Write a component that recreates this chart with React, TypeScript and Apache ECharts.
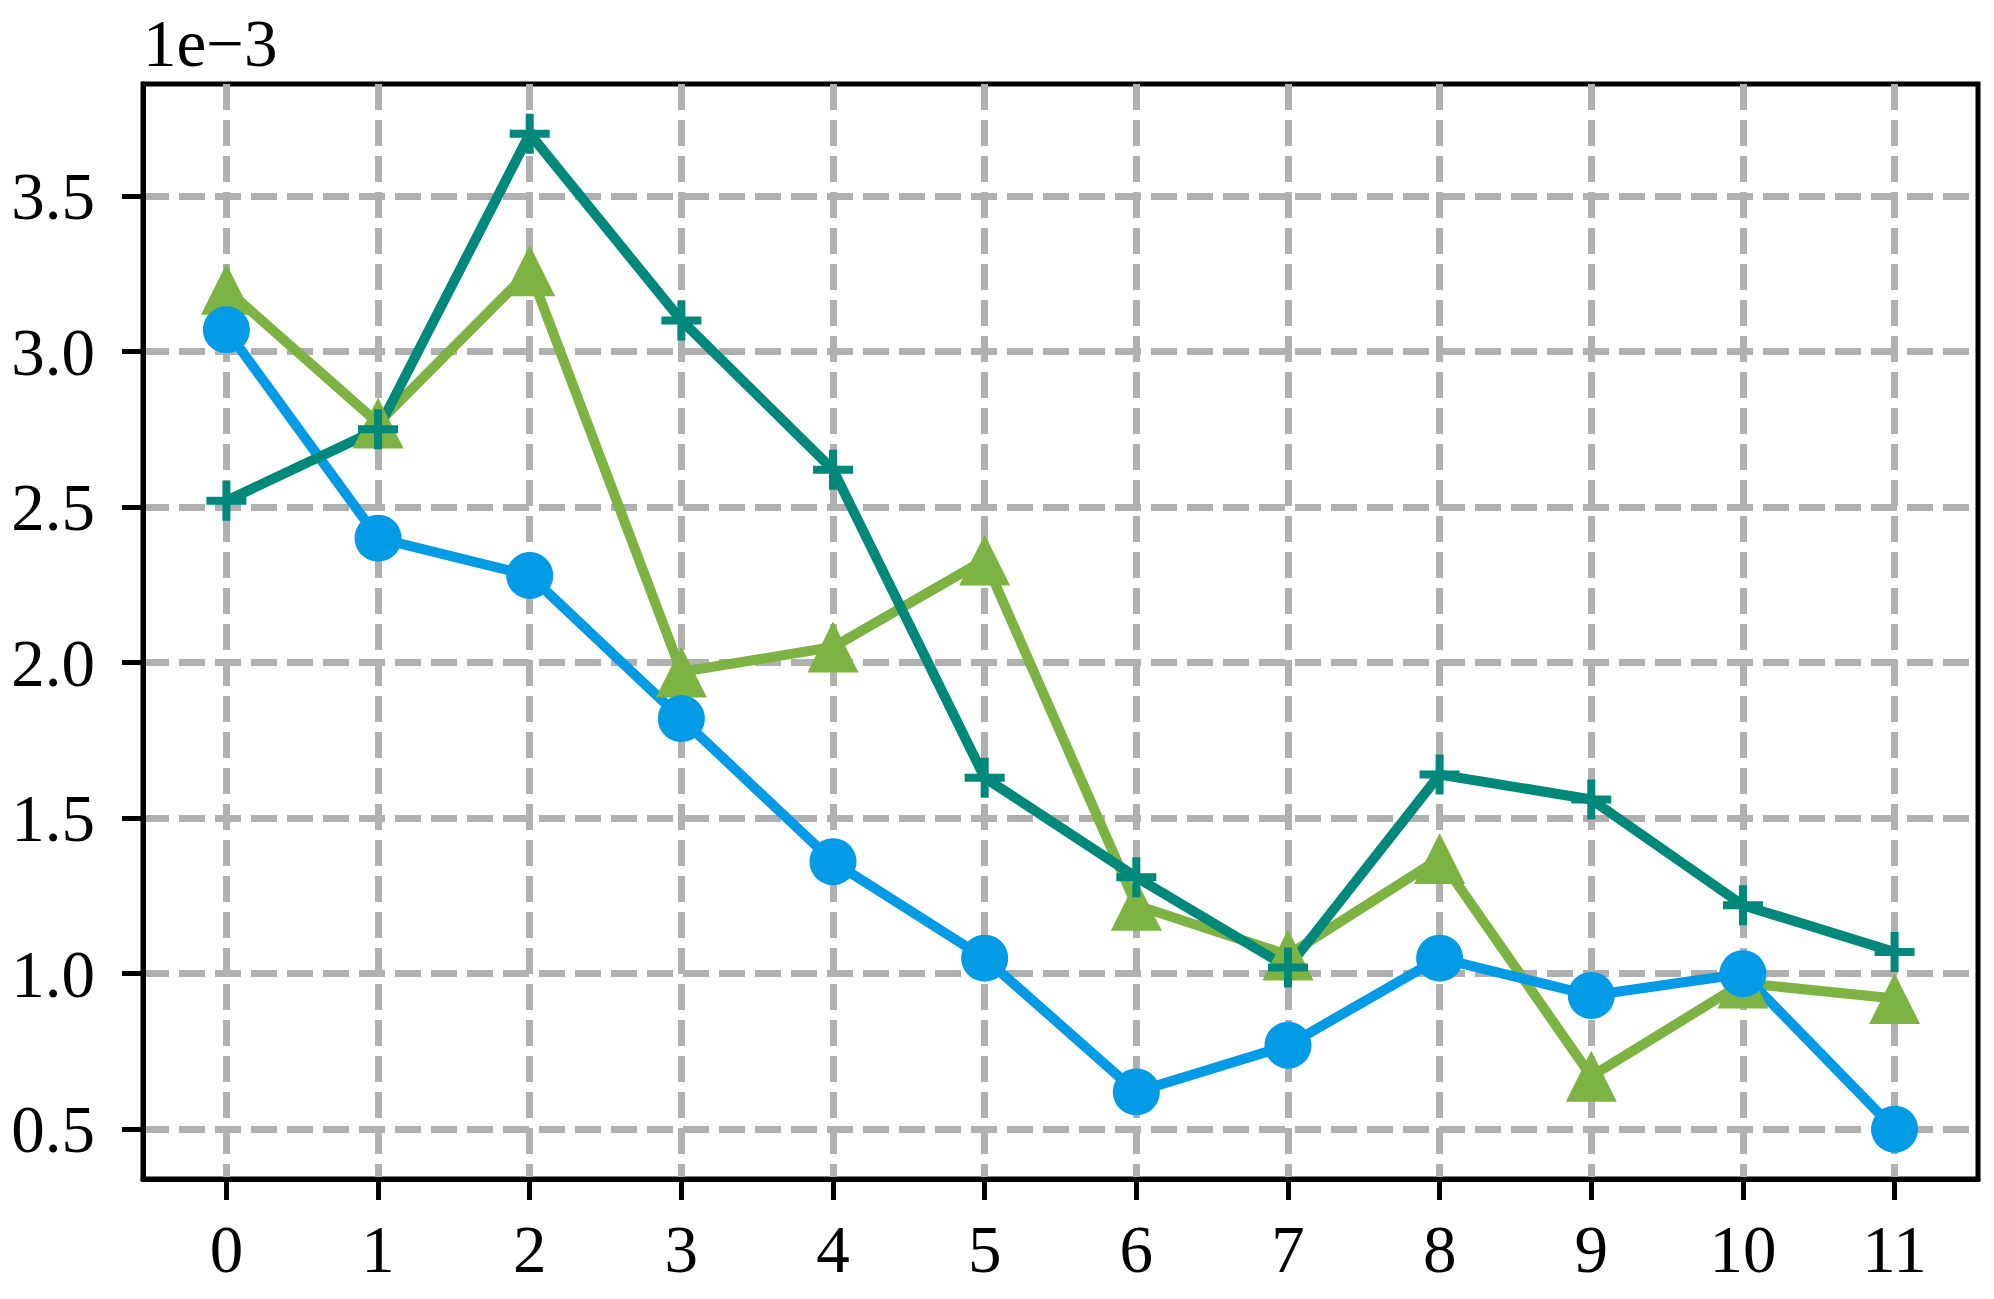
import React, { useEffect, useRef } from "react";
import * as echarts from "echarts";

// values are in units of 1e-3
const categories = [0, 1, 2, 3, 4, 5, 6, 7, 8, 9, 10, 11];
const greenTriangle = [3.2, 2.77, 3.26, 1.97, 2.05, 2.33, 1.22, 1.06, 1.37, 0.67, 0.97, 0.92];
const blueCircle = [3.07, 2.4, 2.28, 1.82, 1.36, 1.05, 0.62, 0.77, 1.05, 0.93, 1.0, 0.5];
const tealPlus = [2.52, 2.75, 3.7, 3.1, 2.62, 1.63, 1.31, 1.02, 1.64, 1.56, 1.22, 1.07];
const yTicks = [0.5, 1.0, 1.5, 2.0, 2.5, 3.0, 3.5];
const xTicks = [0, 1, 2, 3, 4, 5, 6, 7, 8, 9, 10, 11];
const scaleLabel = "1e\u22123";

const FONT = "Liberation Serif";
const FS = 67;

function pairs(vals: number[]) {
  return categories.map((c, i) => [c, vals[i]]);
}

export default function App() {
  const ref = useRef<HTMLDivElement>(null);
  useEffect(() => {
    if (!ref.current) return;
    const chart = echarts.init(ref.current, undefined, { renderer: "svg" });
    const gridLine = { show: true, lineStyle: { color: "#b0b0b0", width: 7, type: [26, 10] as any } };
    chart.setOption({
      animation: false,
      backgroundColor: "#ffffff",
      grid: {
        left: 143,
        right: 16,
        top: 84,
        bottom: 120,
        show: true,
        borderColor: "#000",
        borderWidth: 5,
        backgroundColor: "transparent",
      },
      graphic: [
        {
          type: "text",
          x: 143,
          y: 43,
          style: {
            text: scaleLabel,
            fontSize: FS,
            fontFamily: FONT,
            fill: "#000",
            align: "left",
            verticalAlign: "middle",
          },
        },
      ],
      xAxis: {
        type: "value",
        min: -0.55,
        max: 11.55,
        axisLine: { show: true, onZero: false, lineStyle: { color: "#000", width: 5 } },
        axisTick: { show: true, length: 21, lineStyle: { color: "#000", width: 5 }, customValues: xTicks },
        axisLabel: {
          customValues: xTicks,
          fontSize: FS,
          fontFamily: FONT,
          color: "#000",
          margin: 70,
          verticalAlign: "middle",
          formatter: (v: number) => String(Math.round(v)),
        },
        splitLine: gridLine,
      },
      yAxis: {
        type: "value",
        min: 0.34,
        max: 3.86,
        axisLine: { show: true, onZero: false, lineStyle: { color: "#000", width: 5 } },
        axisTick: { show: true, length: 21, lineStyle: { color: "#000", width: 5 }, customValues: yTicks },
        axisLabel: {
          customValues: yTicks,
          fontSize: FS,
          fontFamily: FONT,
          color: "#000",
          margin: 48,
          verticalAlign: "middle",
          formatter: (v: number) => v.toFixed(1),
        },
        splitLine: gridLine,
      },
      series: [
        {
          type: "line",
          data: pairs(greenTriangle),
          symbol: "triangle",
          symbolSize: [51, 51],
          lineStyle: { color: "#7CB342", width: 10 },
          itemStyle: { color: "#7CB342" },
        },
        {
          type: "line",
          data: pairs(blueCircle),
          symbol: "circle",
          symbolSize: 47,
          lineStyle: { color: "#039BE5", width: 10 },
          itemStyle: { color: "#039BE5" },
        },
        {
          type: "line",
          data: pairs(tealPlus),
          symbol: "path://M-20,-4H20V4H-20ZM-4,-20H4V20H-4Z",
          symbolSize: 40,
          lineStyle: { color: "#00897B", width: 10 },
          itemStyle: { color: "#00897B" },
        },
      ],
    });
    return () => chart.dispose();
  }, []);
  return (
    <div
      ref={ref}
      style={{ position: "absolute", left: 0, top: 0, width: 1994, height: 1299 }}
    />
  );
}
